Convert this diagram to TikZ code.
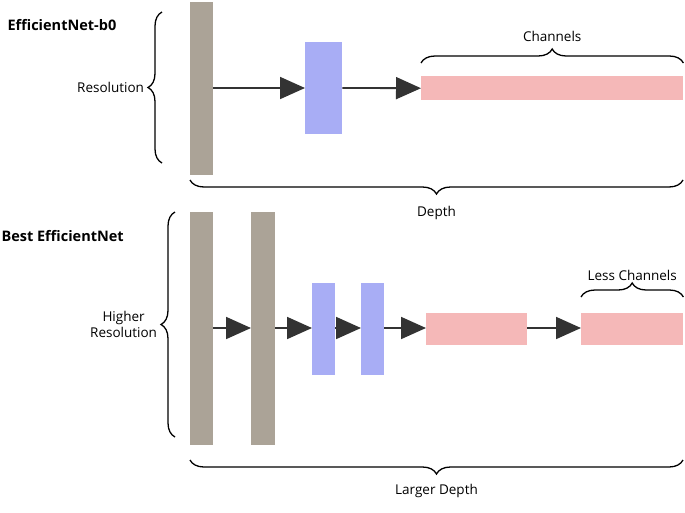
\documentclass[tikz,border=0pt]{standalone}
\usepackage{fontspec}
\setmainfont{Open Sans}
\usetikzlibrary{
	positioning				% relative placement
	, arrows.meta			% big triangle tips
	, decorations.pathreplacing	% braces
}
\definecolor{layergray}{HTML}{ABA397}
\definecolor{layerblue}{HTML}{A8ADF5}
\definecolor{layerpink}{HTML}{F5B8B8}
\definecolor{tipgray}{HTML}{333333}

\begin{document}
\begin{tikzpicture}[
		x=1pt, y=-1pt
		, bar/.style 2 args={rectangle, anchor=north west, inner sep=0pt, draw=none, minimum width=#1, minimum height=#2}
		, conv/.style={bar={23pt}{#1}, fill=layergray}
		, blk/.style={bar={#1}{92pt}, fill=layerblue}
		, chan/.style={bar={#1}{26pt}, fill=layerpink}
		, flow/.style={-{Triangle[length=25pt,width=22pt]}, line width=1.8pt, color=tipgray}
		, brace/.style={decorate, decoration={brace, amplitude=14pt}, line width=1.3pt}
		, lbl/.style={font=\fontsize{13.5}{16.5}\selectfont, align=center}
		, title/.style={font=\fontsize{14.5}{17}\selectfont\bfseries, anchor=west}
	]
	\useasboundingbox (0,0) rectangle (685,512);

	% Baseline network
	\node [title] (basetitle) at (4,25) {EfficientNet-b0};
	\node [conv={173pt}] (base1) at (190,2) {};
	\node [blk={37pt}] (base2) at (305,42) {};
	\node [chan={262pt}, minimum height=24pt] (base3) at (421,76) {};
	\draw [flow] (base1.east |- 0,88) -- (base2.west |- 0,88);
	\draw [flow] (base2.east |- 0,88) -- (base3.west);

	% Baseline braces
	\draw [brace] (162,163) -- (162,12) node [midway, left=14pt, lbl] (baseres) {Resolution};
	\draw [brace] ([yshift=13pt]base3.north west) -- ([yshift=13pt]base3.north east) node [midway, above=17pt, lbl] (basech) {Channels};
	\draw [brace] (683,180) -- (190,180) node [midway, below=22pt, lbl] (basedepth) {Depth};

	% Scaled network
	\node [title] (besttitle) at (-2,236) {Best EfficientNet};
	\node [conv={233pt}] (best1) at (190,212) {};
	\node [conv={233pt}, minimum width=24pt] (best2) at (251,212) {};
	\node [blk={23pt}] (best3) at (312,283) {};
	\node [blk={23pt}] (best4) at (361,283) {};
	\node [chan={101pt}, minimum height=32pt] (best5) at (426,313) {};
	\node [chan={102pt}, minimum height=32pt] (best6) at (581,313) {};
	\foreach \a/\b in {best1/best2, best2/best3, best3/best4, best4/best5, best5/best6}
		\draw [flow] (\a.east |- 0,328) -- (\b.west |- 0,328);

	% Scaled braces
	\draw [brace] (175,437) -- (175,212) node [midway, left=14pt, lbl] (bestres) {Higher\\Resolution};
	\draw [brace] ([yshift=16pt]best6.north west) -- ([yshift=16pt]best6.north east) node [midway, above=12pt, lbl] (bestch) {Less Channels};
	\draw [brace] (683,460) -- (190,460) node [midway, below=20pt, lbl] (bestdepth) {Larger Depth};
\end{tikzpicture}
\end{document}
